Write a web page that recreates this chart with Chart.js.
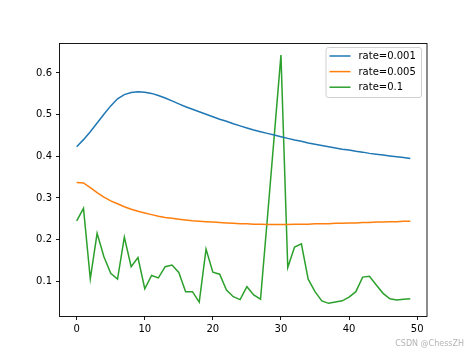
<!DOCTYPE html>
<html>
<head>
<meta charset="utf-8">
<script src="https://cdn.jsdelivr.net/npm/chart.js@4/dist/chart.umd.min.js"></script>
<style>
html,body{margin:0;padding:0;background:#fff;}
canvas{display:block;}
</style>
</head>
<body>
<canvas id="c" width="474" height="355"></canvas>
<script>
const epochs = [0,1,2,3,4,5,6,7,8,9,10,11,12,13,14,15,16,17,18,19,20,21,22,23,24,25,26,27,28,29,30,31,32,33,34,35,36,37,38,39,40,41,42,43,44,45,46,47,48,49];
const seriesNames = ["rate=0.001","rate=0.005","rate=0.1"];
const rate001 = [0.423,0.440,0.459,0.480,0.501,0.521,0.538,0.548,0.553,0.555,0.554,0.551,0.546,0.540,0.533,0.526,0.519,0.513,0.507,0.501,0.495,0.489,0.484,0.478,0.473,0.468,0.463,0.459,0.455,0.451,0.447,0.443,0.439,0.436,0.432,0.429,0.426,0.423,0.420,0.417,0.415,0.412,0.410,0.407,0.405,0.403,0.401,0.399,0.397,0.395];
const rate005 = [0.337,0.336,0.325,0.313,0.302,0.293,0.286,0.279,0.273,0.268,0.264,0.260,0.256,0.253,0.251,0.249,0.247,0.245,0.244,0.243,0.242,0.241,0.240,0.239,0.238,0.238,0.237,0.237,0.236,0.236,0.236,0.236,0.237,0.237,0.237,0.238,0.238,0.238,0.239,0.239,0.240,0.240,0.241,0.241,0.242,0.242,0.243,0.243,0.244,0.244];
const rate01 = [0.245,0.275,0.106,0.215,0.159,0.119,0.105,0.206,0.135,0.157,0.082,0.114,0.108,0.135,0.139,0.121,0.075,0.075,0.050,0.177,0.122,0.117,0.079,0.063,0.056,0.087,0.067,0.057,0.250,0.446,0.643,0.133,0.182,0.190,0.105,0.075,0.053,0.047,0.050,0.053,0.062,0.075,0.110,0.112,0.091,0.071,0.058,0.055,0.057,0.058];
const xTicks = [0,10,20,30,40,50];
const yTicks = [0.1,0.2,0.3,0.4,0.5,0.6];
const colors = ["#1f77b4","#ff7f0e","#2ca02c"];
const allSeries = [rate001, rate005, rate01];

const FONT = "DejaVu Sans";

const frameAndLegend = {
  id: 'frameAndLegend',
  afterDraw(chart) {
    const ctx = chart.ctx;
    const a = chart.chartArea;
    ctx.save();
    ctx.strokeStyle = '#000';
    ctx.lineWidth = 0.9;
    ctx.strokeRect(a.left - 0.5, a.top + 0.5, a.right - a.left + 0.5, a.bottom - a.top);
    // legend
    const bx = 326, by = 47.5, bw = 95.5, bh = 50;
    ctx.beginPath();
    if (ctx.roundRect) ctx.roundRect(bx, by, bw, bh, 2.5); else ctx.rect(bx, by, bw, bh);
    ctx.fillStyle = 'rgba(255,255,255,0.8)';
    ctx.fill();
    ctx.strokeStyle = '#d0d0d0';
    ctx.lineWidth = 1;
    ctx.stroke();
    ctx.font = '10px "' + FONT + '"';
    ctx.textBaseline = 'middle';
    ctx.textAlign = 'left';
    chart.data.datasets.forEach((ds, i) => {
      const y = 56 + i * 15.6;
      ctx.strokeStyle = ds.borderColor;
      ctx.lineWidth = 1.5;
      ctx.beginPath();
      ctx.moveTo(329.5, y);
      ctx.lineTo(350.5, y);
      ctx.stroke();
      ctx.fillStyle = '#000';
      ctx.fillText(ds.label, 358.5, y + 0.5);
    });
    // watermark
    ctx.font = '8px "' + FONT + '"';
    ctx.fillStyle = '#b4b4b4';
    ctx.textAlign = 'right';
    ctx.fillText('CSDN @ChessZH', 464, 344);
    ctx.restore();
  }
};

new Chart(document.getElementById('c'), {
  type: 'line',
  data: {
    datasets: allSeries.map((s, i) => ({
      label: seriesNames[i],
      data: epochs.map((e, j) => ({x: e, y: s[j]})),
      borderColor: colors[i],
      backgroundColor: colors[i],
      borderWidth: 1.5,
      pointRadius: 0,
      tension: 0,
      fill: false
    }))
  },
  options: {
    responsive: false,
    animation: false,
    devicePixelRatio: 1,
    layout: {padding: {top: 43, right: 47, left: 0, bottom: 0}},
    plugins: {legend: {display: false}, tooltip: {enabled: false}},
    scales: {
      x: {
        type: 'linear',
        min: -2.45, max: 51.45,
        afterBuildTicks: s => { s.ticks = xTicks.map(v => ({value: v})); },
        afterFit: s => { s.height = 39; },
        grid: {drawOnChartArea: false, drawTicks: true, tickLength: 4, tickColor: '#000', lineWidth: 0.9},
        border: {display: false},
        ticks: {color: '#000', font: {family: FONT, size: 10}, padding: 3, maxRotation: 0, callback: v => String(v)}
      },
      y: {
        type: 'linear',
        min: 0.0166, max: 0.672,
        afterBuildTicks: s => { s.ticks = yTicks.map(v => ({value: v})); },
        afterFit: s => { s.width = 60; },
        grid: {drawOnChartArea: false, drawTicks: true, tickLength: 4, tickColor: '#000', lineWidth: 0.9},
        border: {display: false},
        ticks: {color: '#000', font: {family: FONT, size: 10}, padding: 4, callback: v => v.toFixed(1)}
      }
    }
  },
  plugins: [frameAndLegend]
});
</script>
</body>
</html>
